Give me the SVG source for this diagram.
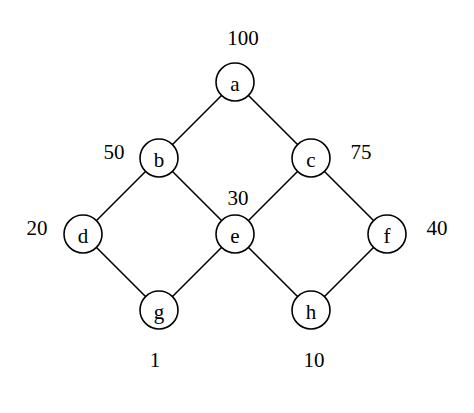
<svg xmlns="http://www.w3.org/2000/svg" width="474" height="413" viewBox="0 0 474 413">
<style>
.n circle{fill:#fff;stroke:#000;stroke-width:1.6}
text{font-family:"Liberation Serif","DejaVu Serif",serif;font-size:21px;fill:#000;text-anchor:middle}
#edges line{stroke:#000;stroke-width:1.6}
</style>
<rect width="474" height="413" fill="#fff"/>
<g id="edges">
<line x1="235" y1="82" x2="159" y2="158"/>
<line x1="235" y1="82" x2="311" y2="158"/>
<line x1="159" y1="158" x2="83" y2="234"/>
<line x1="159" y1="158" x2="235" y2="234"/>
<line x1="311" y1="158" x2="235" y2="234"/>
<line x1="311" y1="158" x2="387" y2="234"/>
<line x1="83" y1="234" x2="159" y2="310"/>
<line x1="235" y1="234" x2="159" y2="310"/>
<line x1="235" y1="234" x2="311" y2="310"/>
<line x1="387" y1="234" x2="311" y2="310"/>
</g>
<g id="a" class="n"><circle cx="235" cy="82" r="19"/><text x="235" y="91">a</text></g>
<g id="b" class="n"><circle cx="159" cy="158" r="19"/><text x="159" y="167">b</text></g>
<g id="c" class="n"><circle cx="311" cy="158" r="19"/><text x="311" y="167">c</text></g>
<g id="d" class="n"><circle cx="83" cy="234" r="19"/><text x="83" y="243">d</text></g>
<g id="e" class="n"><circle cx="235" cy="234" r="19"/><text x="235" y="243">e</text></g>
<g id="f" class="n"><circle cx="387" cy="234" r="19"/><text x="387" y="243">f</text></g>
<g id="g" class="n"><circle cx="159" cy="310" r="19"/><text x="159" y="319">g</text></g>
<g id="h" class="n"><circle cx="311" cy="310" r="19"/><text x="311" y="319">h</text></g>
<g id="weights">
<text x="243" y="45">100</text>
<text x="114" y="159">50</text>
<text x="361" y="159">75</text>
<text x="37" y="235">20</text>
<text x="238" y="205">30</text>
<text x="437" y="235">40</text>
<text x="155" y="367">1</text>
<text x="314" y="367">10</text>
</g>
</svg>
